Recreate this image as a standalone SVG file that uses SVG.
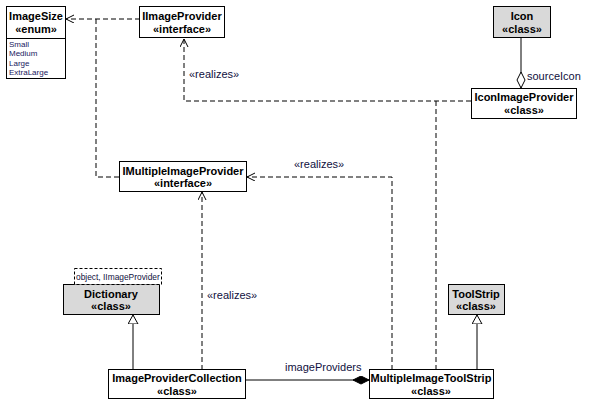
<svg xmlns="http://www.w3.org/2000/svg" width="592" height="405" viewBox="0 0 592 405">
<defs>
<style>
.box{fill:#fff;stroke:#000;stroke-width:1}
.gray{fill:#d9d9d9;stroke:#000;stroke-width:1}
.nm{font-family:"Liberation Sans",Arial,sans-serif;font-size:11px;font-weight:bold;fill:#000;text-anchor:middle}
.lbl{font-family:"Liberation Sans",Arial,sans-serif;font-size:11px;fill:#101040}
.item{font-family:"Liberation Sans",Arial,sans-serif;font-size:8px;fill:#202060}
.dash{fill:none;stroke:#000;stroke-width:1;stroke-dasharray:5 3}
.solid{fill:none;stroke:#000;stroke-width:1}
</style>
<marker id="open" markerWidth="10" markerHeight="10" refX="8" refY="4" orient="auto" markerUnits="userSpaceOnUse">
<path d="M0,0 L8,4 L0,8" fill="none" stroke="#000" stroke-width="1"/>
</marker>
<marker id="tri" markerWidth="12" markerHeight="12" refX="9" refY="5" orient="auto" markerUnits="userSpaceOnUse">
<path d="M0,0 L9,5 L0,10 Z" fill="#fff" stroke="#000" stroke-width="1"/>
</marker>
<marker id="fdia" markerWidth="18" markerHeight="10" refX="16" refY="4.5" orient="auto" markerUnits="userSpaceOnUse">
<path d="M0,4.5 L8,0.5 L16,4.5 L8,8.5 Z" fill="#000" stroke="#000" stroke-width="1"/>
</marker>
<marker id="hdia" markerWidth="18" markerHeight="10" refX="16" refY="4.5" orient="auto" markerUnits="userSpaceOnUse">
<path d="M0,4.5 L8,0.5 L16,4.5 L8,8.5 Z" fill="#fff" stroke="#000" stroke-width="1"/>
</marker>
</defs>
<rect width="592" height="405" fill="#fff"/>

<g id="connectors">
<path class="dash" d="M140,19 H66" marker-end="url(#open)"/>
<path class="dash" d="M119,177 H96 V19"/>
<path class="dash" d="M471,101 H184 V39" marker-end="url(#open)"/>
<path class="dash" d="M436,370 V101"/>
<path class="dash" d="M392,370 V177 H247" marker-end="url(#open)"/>
<path class="dash" d="M202,370 V192" marker-end="url(#open)"/>
<path class="solid" d="M133,370 V315" marker-end="url(#tri)"/>
<path class="solid" d="M477,370 V315" marker-end="url(#tri)"/>
<path class="solid" d="M245,380 H369" marker-end="url(#fdia)"/>
<path class="solid" d="M521,37 V88" marker-end="url(#hdia)"/>
<text class="lbl" x="189" y="78">«realizes»</text>
<text class="lbl" x="294" y="168">«realizes»</text>
<text class="lbl" x="207" y="299">«realizes»</text>
<text class="lbl" x="285" y="371">imageProviders</text>
<text class="lbl" x="527" y="80">sourceIcon</text>
</g>

<g id="ImageSize">
<rect class="box" x="6.5" y="6.5" width="59" height="72"/>
<line class="solid" x1="6.5" y1="38.5" x2="65.5" y2="38.5"/>
<text class="nm" x="36" y="20">ImageSize</text>
<text class="nm" x="36" y="33">«enum»</text>
<text class="item" x="9" y="47">Small</text>
<text class="item" x="9" y="56">Medium</text>
<text class="item" x="9" y="66">Large</text>
<text class="item" x="9" y="75">ExtraLarge</text>
</g>

<g id="IImageProvider">
<rect class="box" x="139.5" y="6.5" width="85" height="31"/>
<text class="nm" x="182" y="20">IImageProvider</text>
<text class="nm" x="182" y="33">«interface»</text>
</g>

<g id="Icon">
<rect class="gray" x="493.5" y="6.5" width="57" height="31"/>
<text class="nm" x="522" y="20">Icon</text>
<text class="nm" x="522" y="33">«class»</text>
</g>

<g id="IconImageProvider">
<rect class="box" x="471.5" y="88.5" width="105" height="30"/>
<text class="nm" x="524" y="101">IconImageProvider</text>
<text class="nm" x="524" y="114">«class»</text>
</g>

<g id="IMultipleImageProvider">
<rect class="box" x="119.5" y="161.5" width="127" height="30"/>
<text class="nm" x="183" y="175">IMultipleImageProvider</text>
<text class="nm" x="183" y="187">«interface»</text>
</g>

<g id="Dictionary">
<rect class="gray" x="63.5" y="284.5" width="96" height="30"/>
<rect x="74.5" y="268.5" width="87" height="16" fill="#fff" stroke="#000" stroke-dasharray="3 2"/>
<text x="76" y="280" font-family="Liberation Sans, Arial, sans-serif" font-size="8.4" fill="#101040">object, IImageProvider</text>
<text class="nm" x="111" y="298">Dictionary</text>
<text class="nm" x="111" y="310">«class»</text>
</g>

<g id="ToolStrip">
<rect class="gray" x="448.5" y="284.5" width="56" height="30"/>
<text class="nm" x="476" y="298">ToolStrip</text>
<text class="nm" x="476" y="310">«class»</text>
</g>

<g id="ImageProviderCollection">
<rect class="box" x="108.5" y="369.5" width="137" height="29"/>
<text class="nm" x="177" y="382">ImageProviderCollection</text>
<text class="nm" x="177" y="395">«class»</text>
</g>

<g id="MultipleImageToolStrip">
<rect class="box" x="369.5" y="369.5" width="124" height="29"/>
<text class="nm" x="431" y="382">MultipleImageToolStrip</text>
<text class="nm" x="431" y="395">«class»</text>
</g>
</svg>
